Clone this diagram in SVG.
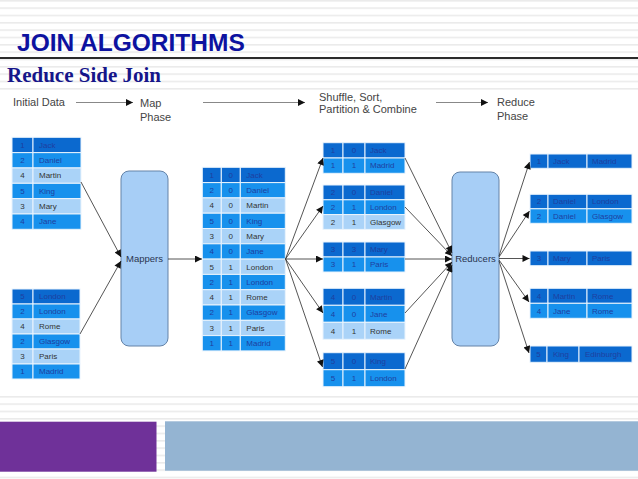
<svg xmlns="http://www.w3.org/2000/svg" width="638" height="479" viewBox="0 0 638 479">
<defs>
<pattern id="st" width="8" height="7.333" patternUnits="userSpaceOnUse"><rect width="8" height="1.6" fill="#ebebeb"/></pattern>
<marker id="ah" viewBox="0 0 10 10" refX="10" refY="5" markerWidth="9" markerHeight="7" markerUnits="userSpaceOnUse" orient="auto"><path d="M0,0 L10,5 L0,10 z" fill="#111"/></marker>
<style>
.d{fill:#0b69cf}.m{fill:#1791ed}.l{fill:#aad3f8}
rect.d,rect.m,rect.l{stroke:#eaf4fd;stroke-width:1}
text{font-family:'Liberation Sans',Arial,sans-serif}
.v{font-size:8px;fill:#1f3f9f}
.k{font-size:8px;fill:#333}
.c{text-anchor:middle}
.hd{font-size:11px;fill:#444}
.box{fill:#a7cef6;stroke:#6483a8;stroke-width:1}
.bl{font-size:9.5px;fill:#2a3550;text-anchor:middle}
.cn line{stroke:#2a2a2a;stroke-width:0.8;marker-end:url(#ah)}
.ph line{stroke:#888;stroke-width:1;marker-end:url(#ah)}
</style>
</defs>
<rect width="638" height="479" fill="#fff"/>
<rect width="638" height="479" fill="url(#st)"/>
<rect x="0" y="92" width="638" height="301" fill="#fff"/>
<text x="17" y="51" font-size="24.5" font-weight="bold" fill="#0d12a0">JOIN ALGORITHMS</text>
<line x1="0" y1="58" x2="638" y2="58" stroke="#2a2a2a" stroke-width="2"/>
<text x="7" y="82" font-family="'Liberation Serif',serif" font-size="21" font-weight="bold" fill="#16168a" style="font-family:'Liberation Serif',serif">Reduce Side Join</text>

<g id="phases">
<text class="hd" x="13" y="106">Initial Data</text>
<text class="hd" x="140" y="107">Map</text>
<text class="hd" x="140" y="121">Phase</text>
<text class="hd" x="319" y="101">Shuffle, Sort,</text>
<text class="hd" x="319" y="113">Partition &amp; Combine</text>
<text class="hd" x="497" y="106">Reduce</text>
<text class="hd" x="497" y="120">Phase</text>
<g class="ph">
<line x1="76" y1="102.5" x2="133" y2="102.5"/>
<line x1="203" y1="102.5" x2="305" y2="102.5"/>
<line x1="436" y1="102.5" x2="488" y2="102.5"/>
</g>
</g>

<g id="initial-users" transform="translate(12,137.3)">
<rect class="d" x="0" y="0" width="21" height="15.33"/><rect class="d" x="21" y="0" width="48" height="15.33"/>
<rect class="m" x="0" y="15.33" width="21" height="15.33"/><rect class="m" x="21" y="15.33" width="48" height="15.33"/>
<rect class="l" x="0" y="30.67" width="21" height="15.33"/><rect class="l" x="21" y="30.67" width="48" height="15.33"/>
<rect class="m" x="0" y="46" width="21" height="15.33"/><rect class="m" x="21" y="46" width="48" height="15.33"/>
<rect class="l" x="0" y="61.33" width="21" height="15.33"/><rect class="l" x="21" y="61.33" width="48" height="15.33"/>
<rect class="m" x="0" y="76.67" width="21" height="15.33"/><rect class="m" x="21" y="76.67" width="48" height="15.33"/>
<text class="v c" x="10.5" y="10.5">1</text><text class="v" x="27" y="10.5">Jack</text>
<text class="v c" x="10.5" y="25.8">2</text><text class="v" x="27" y="25.8">Daniel</text>
<text class="k c" x="10.5" y="41.2">4</text><text class="k" x="27" y="41.2">Martin</text>
<text class="v c" x="10.5" y="56.5">5</text><text class="v" x="27" y="56.5">King</text>
<text class="k c" x="10.5" y="71.8">3</text><text class="k" x="27" y="71.8">Mary</text>
<text class="v c" x="10.5" y="87.2">4</text><text class="v" x="27" y="87.2">Jane</text>
</g>

<g id="initial-locations" transform="translate(12,289)">
<rect class="d" x="0" y="0" width="21" height="15"/><rect class="d" x="21" y="0" width="47" height="15"/>
<rect class="m" x="0" y="15" width="21" height="15"/><rect class="m" x="21" y="15" width="47" height="15"/>
<rect class="l" x="0" y="30" width="21" height="15"/><rect class="l" x="21" y="30" width="47" height="15"/>
<rect class="m" x="0" y="45" width="21" height="15"/><rect class="m" x="21" y="45" width="47" height="15"/>
<rect class="l" x="0" y="60" width="21" height="15"/><rect class="l" x="21" y="60" width="47" height="15"/>
<rect class="m" x="0" y="75" width="21" height="15"/><rect class="m" x="21" y="75" width="47" height="15"/>
<text class="v c" x="10.5" y="10.3">5</text><text class="v" x="27" y="10.3">London</text>
<text class="v c" x="10.5" y="25.3">2</text><text class="v" x="27" y="25.3">London</text>
<text class="k c" x="10.5" y="40.3">4</text><text class="k" x="27" y="40.3">Rome</text>
<text class="v c" x="10.5" y="55.3">2</text><text class="v" x="27" y="55.3">Glasgow</text>
<text class="k c" x="10.5" y="70.3">3</text><text class="k" x="27" y="70.3">Paris</text>
<text class="v c" x="10.5" y="85.3">1</text><text class="v" x="27" y="85.3">Madrid</text>
</g>

<g id="mappers">
<rect class="box" x="121" y="171" width="47" height="175" rx="8"/>
<text class="bl" x="144.5" y="262">Mappers</text>
</g>

<g id="tagged" transform="translate(202.3,167.3)">
<rect class="d" x="0" y="0" width="19" height="15.3"/><rect class="d" x="19" y="0" width="19" height="15.3"/><rect class="d" x="38" y="0" width="45" height="15.3"/>
<rect class="m" x="0" y="15.3" width="19" height="15.3"/><rect class="m" x="19" y="15.3" width="19" height="15.3"/><rect class="m" x="38" y="15.3" width="45" height="15.3"/>
<rect class="l" x="0" y="30.6" width="19" height="15.3"/><rect class="l" x="19" y="30.6" width="19" height="15.3"/><rect class="l" x="38" y="30.6" width="45" height="15.3"/>
<rect class="m" x="0" y="45.9" width="19" height="15.3"/><rect class="m" x="19" y="45.9" width="19" height="15.3"/><rect class="m" x="38" y="45.9" width="45" height="15.3"/>
<rect class="l" x="0" y="61.2" width="19" height="15.3"/><rect class="l" x="19" y="61.2" width="19" height="15.3"/><rect class="l" x="38" y="61.2" width="45" height="15.3"/>
<rect class="m" x="0" y="76.5" width="19" height="15.3"/><rect class="m" x="19" y="76.5" width="19" height="15.3"/><rect class="m" x="38" y="76.5" width="45" height="15.3"/>
<rect class="l" x="0" y="91.8" width="19" height="15.3"/><rect class="l" x="19" y="91.8" width="19" height="15.3"/><rect class="l" x="38" y="91.8" width="45" height="15.3"/>
<rect class="m" x="0" y="107.1" width="19" height="15.3"/><rect class="m" x="19" y="107.1" width="19" height="15.3"/><rect class="m" x="38" y="107.1" width="45" height="15.3"/>
<rect class="l" x="0" y="122.4" width="19" height="15.3"/><rect class="l" x="19" y="122.4" width="19" height="15.3"/><rect class="l" x="38" y="122.4" width="45" height="15.3"/>
<rect class="m" x="0" y="137.7" width="19" height="15.3"/><rect class="m" x="19" y="137.7" width="19" height="15.3"/><rect class="m" x="38" y="137.7" width="45" height="15.3"/>
<rect class="l" x="0" y="153" width="19" height="15.3"/><rect class="l" x="19" y="153" width="19" height="15.3"/><rect class="l" x="38" y="153" width="45" height="15.3"/>
<rect class="m" x="0" y="168.3" width="19" height="15.3"/><rect class="m" x="19" y="168.3" width="19" height="15.3"/><rect class="m" x="38" y="168.3" width="45" height="15.3"/>
<text class="v c" x="9.5" y="10.5">1</text><text class="v c" x="28.5" y="10.5">0</text><text class="v" x="44" y="10.5">Jack</text>
<text class="v c" x="9.5" y="25.8">2</text><text class="v c" x="28.5" y="25.8">0</text><text class="v" x="44" y="25.8">Daniel</text>
<text class="k c" x="9.5" y="41.1">4</text><text class="k c" x="28.5" y="41.1">0</text><text class="k" x="44" y="41.1">Martin</text>
<text class="v c" x="9.5" y="56.4">5</text><text class="v c" x="28.5" y="56.4">0</text><text class="v" x="44" y="56.4">King</text>
<text class="k c" x="9.5" y="71.7">3</text><text class="k c" x="28.5" y="71.7">0</text><text class="k" x="44" y="71.7">Mary</text>
<text class="v c" x="9.5" y="87">4</text><text class="v c" x="28.5" y="87">0</text><text class="v" x="44" y="87">Jane</text>
<text class="k c" x="9.5" y="102.3">5</text><text class="k c" x="28.5" y="102.3">1</text><text class="k" x="44" y="102.3">London</text>
<text class="v c" x="9.5" y="117.6">2</text><text class="v c" x="28.5" y="117.6">1</text><text class="v" x="44" y="117.6">London</text>
<text class="k c" x="9.5" y="132.9">4</text><text class="k c" x="28.5" y="132.9">1</text><text class="k" x="44" y="132.9">Rome</text>
<text class="v c" x="9.5" y="148.2">2</text><text class="v c" x="28.5" y="148.2">1</text><text class="v" x="44" y="148.2">Glasgow</text>
<text class="k c" x="9.5" y="163.5">3</text><text class="k c" x="28.5" y="163.5">1</text><text class="k" x="44" y="163.5">Paris</text>
<text class="v c" x="9.5" y="178.8">1</text><text class="v c" x="28.5" y="178.8">1</text><text class="v" x="44" y="178.8">Madrid</text>
</g>

<g id="group1" transform="translate(323,142.7)">
<rect class="d" x="0" y="0" width="20" height="15.3"/><rect class="d" x="20" y="0" width="22" height="15.3"/><rect class="d" x="42" y="0" width="40" height="15.3"/>
<rect class="m" x="0" y="15.3" width="20" height="15.3"/><rect class="m" x="20" y="15.3" width="22" height="15.3"/><rect class="m" x="42" y="15.3" width="40" height="15.3"/>
<text class="v c" x="10" y="10.5">1</text><text class="v c" x="31" y="10.5">0</text><text class="v" x="47" y="10.5">Jack</text>
<text class="v c" x="10" y="25.8">1</text><text class="v c" x="31" y="25.8">1</text><text class="v" x="47" y="25.8">Madrid</text>
</g>
<g id="group2" transform="translate(323,185)">
<rect class="d" x="0" y="0" width="20" height="14.8"/><rect class="d" x="20" y="0" width="22" height="14.8"/><rect class="d" x="42" y="0" width="40" height="14.8"/>
<rect class="m" x="0" y="14.8" width="20" height="14.8"/><rect class="m" x="20" y="14.8" width="22" height="14.8"/><rect class="m" x="42" y="14.8" width="40" height="14.8"/>
<rect class="l" x="0" y="29.6" width="20" height="14.8"/><rect class="l" x="20" y="29.6" width="22" height="14.8"/><rect class="l" x="42" y="29.6" width="40" height="14.8"/>
<text class="v c" x="10" y="10.3">2</text><text class="v c" x="31" y="10.3">0</text><text class="v" x="47" y="10.3">Daniel</text>
<text class="v c" x="10" y="25.1">2</text><text class="v c" x="31" y="25.1">1</text><text class="v" x="47" y="25.1">London</text>
<text class="k c" x="10" y="39.9">2</text><text class="k c" x="31" y="39.9">1</text><text class="k" x="47" y="39.9">Glasgow</text>
</g>
<g id="group3" transform="translate(323,242)">
<rect class="d" x="0" y="0" width="20" height="15"/><rect class="d" x="20" y="0" width="22" height="15"/><rect class="d" x="42" y="0" width="40" height="15"/>
<rect class="m" x="0" y="15" width="20" height="15"/><rect class="m" x="20" y="15" width="22" height="15"/><rect class="m" x="42" y="15" width="40" height="15"/>
<text class="v c" x="10" y="10.4">3</text><text class="v c" x="31" y="10.4">3</text><text class="v" x="47" y="10.4">Mary</text>
<text class="v c" x="10" y="25.4">3</text><text class="v c" x="31" y="25.4">1</text><text class="v" x="47" y="25.4">Paris</text>
</g>
<g id="group4" transform="translate(323,288.3)">
<rect class="d" x="0" y="0" width="20" height="17"/><rect class="d" x="20" y="0" width="22" height="17"/><rect class="d" x="42" y="0" width="40" height="17"/>
<rect class="m" x="0" y="17" width="20" height="17"/><rect class="m" x="20" y="17" width="22" height="17"/><rect class="m" x="42" y="17" width="40" height="17"/>
<rect class="l" x="0" y="34" width="20" height="17"/><rect class="l" x="20" y="34" width="22" height="17"/><rect class="l" x="42" y="34" width="40" height="17"/>
<text class="v c" x="10" y="11.4">4</text><text class="v c" x="31" y="11.4">0</text><text class="v" x="47" y="11.4">Martin</text>
<text class="v c" x="10" y="28.4">4</text><text class="v c" x="31" y="28.4">0</text><text class="v" x="47" y="28.4">Jane</text>
<text class="k c" x="10" y="45.4">4</text><text class="k c" x="31" y="45.4">1</text><text class="k" x="47" y="45.4">Rome</text>
</g>
<g id="group5" transform="translate(323,352.7)">
<rect class="d" x="0" y="0" width="20" height="17"/><rect class="d" x="20" y="0" width="22" height="17"/><rect class="d" x="42" y="0" width="40" height="17"/>
<rect class="m" x="0" y="17" width="20" height="17"/><rect class="m" x="20" y="17" width="22" height="17"/><rect class="m" x="42" y="17" width="40" height="17"/>
<text class="v c" x="10" y="11.4">5</text><text class="v c" x="31" y="11.4">0</text><text class="v" x="47" y="11.4">King</text>
<text class="v c" x="10" y="28.4">5</text><text class="v c" x="31" y="28.4">1</text><text class="v" x="47" y="28.4">London</text>
</g>

<g id="reducers">
<rect class="box" x="452" y="172" width="47" height="174" rx="8"/>
<text class="bl" x="475.5" y="262">Reducers</text>
</g>

<g id="result1" transform="translate(530,154)">
<rect class="d" x="0" y="0" width="18" height="14.3"/><rect class="d" x="18" y="0" width="39" height="14.3"/><rect class="d" x="57" y="0" width="45" height="14.3"/>
<text class="v c" x="9" y="10">1</text><text class="v" x="23" y="10">Jack</text><text class="v" x="62" y="10">Madrid</text>
</g>
<g id="result2" transform="translate(530,194.3)">
<rect class="d" x="0" y="0" width="18" height="14.5"/><rect class="d" x="18" y="0" width="39" height="14.5"/><rect class="d" x="57" y="0" width="45" height="14.5"/>
<rect class="m" x="0" y="14.5" width="18" height="14.5"/><rect class="m" x="18" y="14.5" width="39" height="14.5"/><rect class="m" x="57" y="14.5" width="45" height="14.5"/>
<text class="v c" x="9" y="10.1">2</text><text class="v" x="23" y="10.1">Daniel</text><text class="v" x="62" y="10.1">London</text>
<text class="v c" x="9" y="24.6">2</text><text class="v" x="23" y="24.6">Daniel</text><text class="v" x="62" y="24.6">Glasgow</text>
</g>
<g id="result3" transform="translate(530,251)">
<rect class="d" x="0" y="0" width="18" height="14.7"/><rect class="d" x="18" y="0" width="39" height="14.7"/><rect class="d" x="57" y="0" width="45" height="14.7"/>
<text class="v c" x="9" y="10.2">3</text><text class="v" x="23" y="10.2">Mary</text><text class="v" x="62" y="10.2">Paris</text>
</g>
<g id="result4" transform="translate(530,288.3)">
<rect class="d" x="0" y="0" width="18" height="15"/><rect class="d" x="18" y="0" width="39" height="15"/><rect class="d" x="57" y="0" width="45" height="15"/>
<rect class="m" x="0" y="15" width="18" height="15"/><rect class="m" x="18" y="15" width="39" height="15"/><rect class="m" x="57" y="15" width="45" height="15"/>
<text class="v c" x="9" y="10.4">4</text><text class="v" x="23" y="10.4">Martin</text><text class="v" x="62" y="10.4">Rome</text>
<text class="v c" x="9" y="25.4">4</text><text class="v" x="23" y="25.4">Jane</text><text class="v" x="62" y="25.4">Rome</text>
</g>
<g id="result5" transform="translate(530,346)">
<rect class="d" x="0" y="0" width="17" height="16.3"/><rect class="d" x="17" y="0" width="32" height="16.3"/><rect class="d" x="49" y="0" width="53" height="16.3"/>
<text class="v c" x="8.5" y="11">5</text><text class="v" x="23" y="11">King</text><text class="v" x="55" y="11">Edinburgh</text>
</g>

<g id="connectors" class="cn">
<line x1="81" y1="182" x2="121" y2="257"/>
<line x1="80" y1="334" x2="121" y2="261"/>
<line x1="168" y1="259" x2="202" y2="259"/>
<line x1="285.5" y1="259" x2="323" y2="158"/>
<line x1="285.5" y1="259" x2="323" y2="206"/>
<line x1="285.5" y1="259" x2="323" y2="259"/>
<line x1="285.5" y1="259" x2="323" y2="313"/>
<line x1="285.5" y1="259" x2="322.5" y2="367"/>
<line x1="405" y1="158" x2="452" y2="253"/>
<line x1="405" y1="207" x2="452" y2="256"/>
<line x1="405" y1="259" x2="452" y2="259"/>
<line x1="405" y1="313" x2="452" y2="262"/>
<line x1="405" y1="369" x2="452" y2="265"/>
<line x1="499" y1="256" x2="529.5" y2="162"/>
<line x1="499" y1="257" x2="529.5" y2="211"/>
<line x1="499" y1="258.5" x2="529.5" y2="258.5"/>
<line x1="499" y1="260" x2="529" y2="302"/>
<line x1="499" y1="261" x2="529" y2="353"/>
</g>

<rect x="0" y="421.7" width="156.5" height="50" fill="#6f3199"/>
<rect x="165" y="421.3" width="473" height="49.4" fill="#94b4d2"/>
</svg>
